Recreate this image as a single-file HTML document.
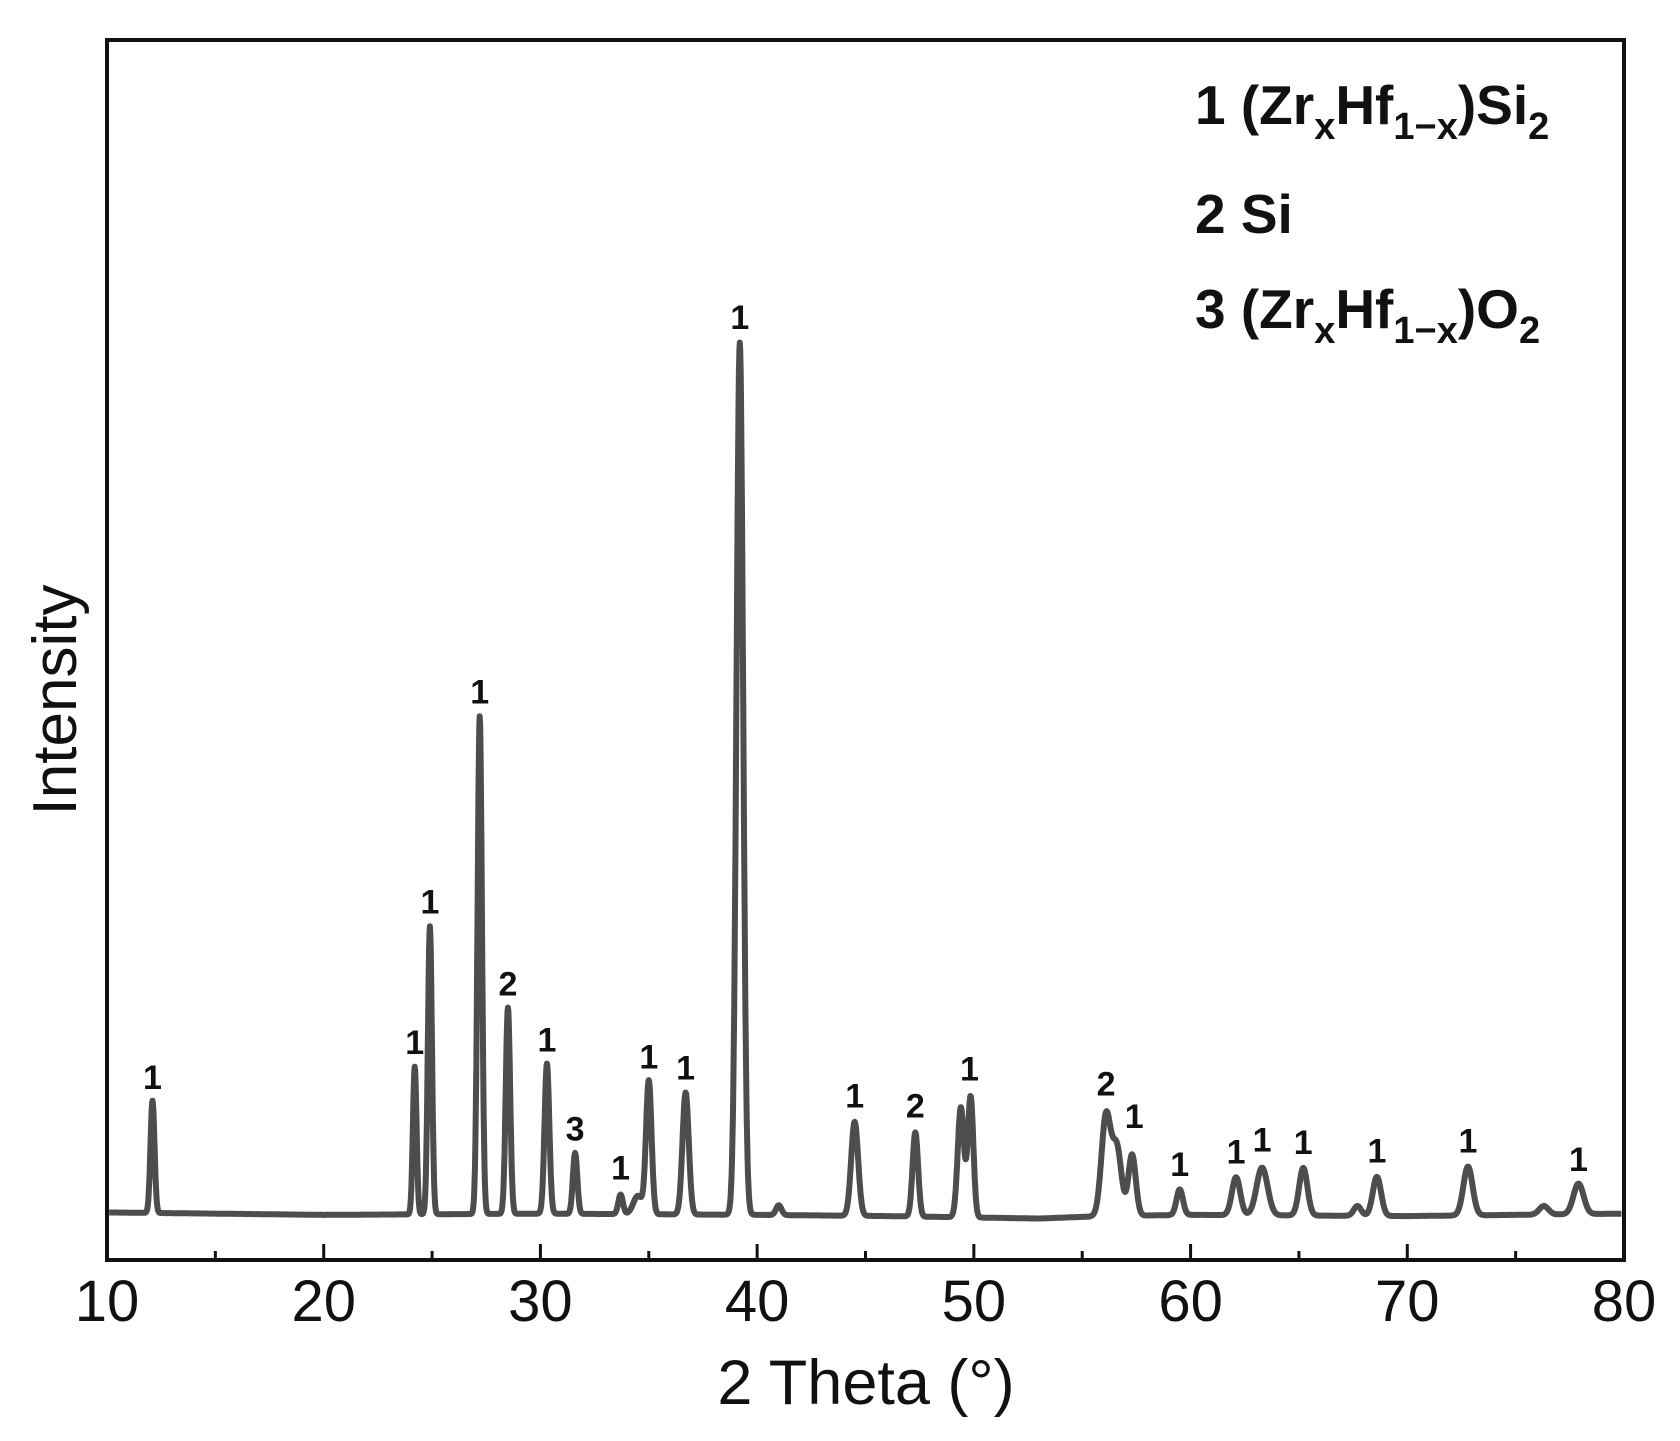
<!DOCTYPE html>
<html><head><meta charset="utf-8"><style>
html,body{margin:0;padding:0;background:#fff;}
svg{display:block;}
text{font-family:"Liberation Sans",Arial,sans-serif;}
</style></head><body>
<svg id="chart" width="1680" height="1441" viewBox="0 0 1680 1441" xmlns="http://www.w3.org/2000/svg">
<g id="plot"></g>
<rect x="107" y="40" width="1517" height="1220" fill="none" stroke="#111" stroke-width="4"/>
<g id="axis"></g>
<text x="866" y="1404" font-size="63" text-anchor="middle" fill="#111">2 Theta (°)</text>
<text transform="translate(76,700) rotate(-90)" font-size="62" text-anchor="middle" fill="#111">Intensity</text>
<g font-weight="bold" font-size="55" fill="#111">
<text x="1195" y="124">1 (Zr<tspan font-size="38" dy="15">x</tspan><tspan dy="-15">Hf</tspan><tspan font-size="38" dy="15">1−x</tspan><tspan dy="-15">)Si</tspan><tspan font-size="38" dy="15">2</tspan></text>
<text x="1195" y="233">2 Si</text>
<text x="1195" y="328">3 (Zr<tspan font-size="38" dy="15">x</tspan><tspan dy="-15">Hf</tspan><tspan font-size="38" dy="15">1−x</tspan><tspan dy="-15">)O</tspan><tspan font-size="38" dy="15">2</tspan></text>
</g>
</svg>
<script>
const peakPos    = [12.1,24.2,24.9,27.2,28.5,30.3,31.6,33.7,34.5,35.0,36.7,39.2,41.0,44.5,47.3,49.4,49.85,56.1,56.6,57.3,59.5,62.1,63.3,65.2,67.7,68.6,72.8,76.3,77.9];
const peakHeight = [9.2,12.1,23.6,40.8,16.9,12.3,5.0,1.6,1.5,10.9,10.0,71.5,0.8,7.7,6.9,9.0,9.9,8.2,5.5,5.0,2.1,3.1,3.9,3.9,0.8,3.2,4.0,0.7,2.5];
const peakWidth  = [0.22,0.2,0.22,0.24,0.24,0.26,0.24,0.25,0.5,0.3,0.34,0.36,0.3,0.38,0.3,0.34,0.3,0.5,0.5,0.4,0.35,0.45,0.6,0.45,0.4,0.45,0.5,0.5,0.55];
const baseX = [10,20,30,40,46,53,56,60,70,80];
const baseY = [3.9,3.7,3.8,3.7,3.6,3.4,3.6,3.7,3.6,3.8];
const labelPos  = [12.1,24.2,24.9,27.2,28.5,30.3,31.6,33.7,35.0,36.7,39.2,44.5,47.3,49.8,56.1,57.4,59.5,62.1,63.3,65.2,68.6,72.8,77.9];
const labelText = ["1","1","1","1","2","1","3","1","1","1","1","1","2","1","2","1","1","1","1","1","1","1","1"];
const labelVal  = [14.0,16.9,28.4,45.6,21.7,17.1,9.8,6.6,15.7,14.8,76.3,12.5,11.7,14.7,13.5,10.8,6.9,7.9,8.9,8.7,8.0,8.8,7.3];
const xTicks = [10,20,30,40,50,60,70,80];
const xMinor = [15,25,35,45,55,65,75];

const X0=107,X1=1624,Y0=1260,Y1=40;
const xs=v=>X0+(v-10)/70*(X1-X0);
const ys=v=>Y0-v/100*(Y0-Y1);
const NS='http://www.w3.org/2000/svg';
function base(x){for(let i=0;i<baseX.length-1;i++){if(x<=baseX[i+1]){const t=(x-baseX[i])/(baseX[i+1]-baseX[i]);return baseY[i]+t*(baseY[i+1]-baseY[i]);}}return baseY[baseY.length-1];}
function inten(x){let s=base(x);for(let i=0;i<peakPos.length;i++){const w=peakWidth[i]/2.3548;const d=(x-peakPos[i])/w;s+=peakHeight[i]*Math.exp(-0.5*d*d);}return s;}
const plot=document.getElementById('plot');
let d='';
for(let x=10.1;x<=79.9;x+=0.02){d+=(d?'L':'M')+xs(x).toFixed(1)+' '+ys(inten(x)).toFixed(1);}
const p=document.createElementNS(NS,'path');
p.setAttribute('d',d);p.setAttribute('fill','none');p.setAttribute('stroke','#4d4d4d');p.setAttribute('stroke-width','6');p.setAttribute('stroke-linejoin','round');


plot.appendChild(p);
for(let i=0;i<labelPos.length;i++){
  const t=document.createElementNS(NS,'text');
  t.setAttribute('x',xs(labelPos[i]));t.setAttribute('y',ys(labelVal[i]));
  t.setAttribute('font-size','34');t.setAttribute('font-weight','bold');t.setAttribute('text-anchor','middle');t.setAttribute('fill','#111');
  t.textContent=labelText[i];
  
  
  plot.appendChild(t);
}
const ax=document.getElementById('axis');
xTicks.forEach(v=>{
  const l=document.createElementNS(NS,'line');
  l.setAttribute('x1',xs(v));l.setAttribute('x2',xs(v));l.setAttribute('y1',Y0);l.setAttribute('y2',Y0-16);l.setAttribute('stroke','#111');l.setAttribute('stroke-width','3');
  
  
  ax.appendChild(l);
  const t=document.createElementNS(NS,'text');
  t.setAttribute('x',xs(v));t.setAttribute('y',1321);t.setAttribute('font-size','58');t.setAttribute('text-anchor','middle');t.setAttribute('fill','#111');
  t.textContent=v;
  
  
  ax.appendChild(t);
});
xMinor.forEach(v=>{
  const l=document.createElementNS(NS,'line');
  l.setAttribute('x1',xs(v));l.setAttribute('x2',xs(v));l.setAttribute('y1',Y0);l.setAttribute('y2',Y0-9);l.setAttribute('stroke','#111');l.setAttribute('stroke-width','3');
  
  
  ax.appendChild(l);
});
</script>
</body></html>
